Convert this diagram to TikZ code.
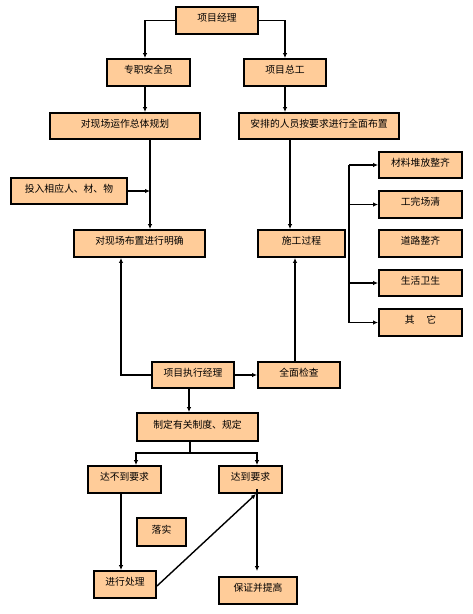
\documentclass[tikz,border=0pt]{standalone}
\usepackage{fontspec}
\newfontfamily\cjk{Noto Sans CJK SC}
\usetikzlibrary{arrows.meta}
\definecolor{peach}{HTML}{FFCC99}
\tikzset{
  box/.style={draw=black, line width=1.9pt, fill=peach, inner sep=0pt,
    text height=8pt, text depth=6pt, font=\cjk\fontsize{9.8}{11}\selectfont},
  conn/.style={line width=1.4pt, draw=black},
  arr/.style={conn, -{Latex[length=5pt,width=4.5pt]}}
}
\begin{document}
\begin{tikzpicture}[x=1pt,y=-1pt]
\useasboundingbox[fill=white] (0,0) rectangle (473,614);
% boxes
\node[box, minimum width=82pt, minimum height=27pt] (pm) at (217,20.5) {项目经理};
\node[box, minimum width=83pt, minimum height=27pt] (aq) at (148.5,72.5) {专职安全员};
\node[box, minimum width=82pt, minimum height=27pt] (zg) at (285,72.5) {项目总工};
\node[box, minimum width=150pt, minimum height=26pt] (gh) at (125,126) {对现场运作总体规划};
\node[box, minimum width=160pt, minimum height=26pt] (ap) at (319,126) {安排的人员按要求进行全面布置};
\node[box, minimum width=116pt, minimum height=26pt] (tr) at (69,191) {投入相应人、材、物};
\node[box, minimum width=131pt, minimum height=27pt] (mq) at (139.5,243.5) {对现场布置进行明确};
\node[box, minimum width=87pt, minimum height=27pt] (sg) at (301.5,243.5) {施工过程};
\node[box, minimum width=83pt, minimum height=26pt] (r1) at (420.5,165) {材料堆放整齐};
\node[box, minimum width=83pt, minimum height=27pt] (r2) at (420.5,204.5) {工完场清};
\node[box, minimum width=83pt, minimum height=27pt] (r3) at (420.5,243.5) {道路整齐};
\node[box, minimum width=83pt, minimum height=26pt] (r4) at (420.5,283) {生活卫生};
\node[box, minimum width=83pt, minimum height=27pt] (r5) at (420.5,322.5) {其\hspace{1.2em}它};
\node[box, minimum width=82pt, minimum height=26pt] (ex) at (193,375) {项目执行经理};
\node[box, minimum width=82pt, minimum height=26pt] (qc) at (299,375) {全面检查};
\node[box, minimum width=121pt, minimum height=28pt] (zd) at (197.5,427) {制定有关制度、规定};
\node[box, minimum width=73pt, minimum height=27pt] (bd) at (124.5,479.5) {达不到要求};
\node[box, minimum width=63pt, minimum height=27pt] (dd) at (250.5,479.5) {达到要求};
\node[box, minimum width=49pt, minimum height=28pt] (ls) at (161.5,532) {落实};
\node[box, minimum width=62pt, minimum height=27pt] (cl) at (125,584.5) {进行处理};
\node[box, minimum width=78pt, minimum height=27pt] (bz) at (258,590.5) {保证并提高};
% connectors
\draw[arr] (pm.west) -| ([xshift=-3.5pt]aq.north);
\draw[arr] (pm.east) -| (zg.north);
\draw[arr] ([xshift=-3.5pt]aq.south) -- ([xshift=-3.5pt]aq.south |- gh.north);
\draw[arr] (zg.south) -- (zg.south |- ap.north);
\draw[arr] ([xshift=25pt]gh.south) -- ([xshift=25pt]gh.south |- mq.north);
\coordinate (tj) at (150,191);
\draw[arr] (tr.east) -- (tj);
\draw[arr] ([xshift=-29pt]ap.south) -- ([xshift=-29pt]ap.south |- sg.north);
\coordinate (bus) at (349,0);
\draw[conn] (bus |- r1.west) -- (bus |- r5.west);
\draw[arr] (bus |- r1.west) -- (r1.west);
\draw[arr] (bus |- r2.west) -- (r2.west);
\draw[arr] (bus |- r4.west) -- (r4.west);
\draw[arr] (bus |- r5.west) -- (r5.west);
\draw[arr] (ex.west) -| ([xshift=-18.5pt]mq.south);
\draw[arr] ([xshift=-4pt]qc.north) -- ([xshift=-4pt]qc.north |- sg.south);
\draw[arr] (ex.east) -- (qc.west);
\draw[arr] ([xshift=-4pt]ex.south) -- ([xshift=-4pt]ex.south |- zd.north);
\coordinate (j) at (190,453);
\draw[conn] ([xshift=-7.5pt]zd.south) -- (j);
\draw[arr] (j) -| ([xshift=11.5pt]bd.north);
\draw[arr] (j) -| ([xshift=6.5pt]dd.north);
\draw[arr] ([xshift=-3.5pt]bd.south) -- ([xshift=-3.5pt]bd.south |- cl.north);
\draw[arr] ([yshift=-1.5pt]cl.east) -- ([xshift=5.5pt]dd.south);
\draw[arr] ([xshift=6.5pt,yshift=5pt]dd.south) -- ([xshift=6.5pt,yshift=5pt]dd.south |- bz.north);
\end{tikzpicture}
\end{document}
